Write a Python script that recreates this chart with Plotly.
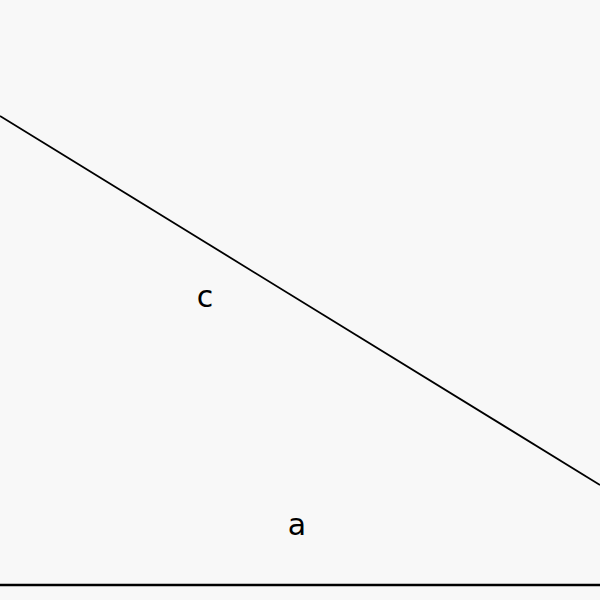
import plotly.graph_objects as go

# sloped side (c) and base (a), in picture units (0..600, y down)
side_x = [0, 600]
side_y = [116, 485]
base_x = [0, 600]
base_y = [585, 585]

label_text = ["c", "a"]
label_x = [205, 297]
label_y = [299, 527]

fig = go.Figure()

fig.add_trace(go.Scatter(x=side_x, y=side_y, mode="lines",
                         line=dict(color="black", width=1.8), hoverinfo="skip"))
fig.add_trace(go.Scatter(x=base_x, y=base_y, mode="lines",
                         line=dict(color="black", width=2.4), hoverinfo="skip"))
fig.add_trace(go.Scatter(x=label_x, y=label_y, mode="text", text=label_text,
                         textfont=dict(family="DejaVu Sans", size=30, color="black"),
                         hoverinfo="skip"))

fig.update_layout(
    width=600,
    height=600,
    margin=dict(l=0, r=0, t=0, b=0),
    paper_bgcolor="#f8f8f8",
    plot_bgcolor="#f8f8f8",
    showlegend=False,
    xaxis=dict(range=[0, 600], visible=False, fixedrange=True),
    yaxis=dict(range=[600, 0], visible=False, fixedrange=True),
)

# drop the page's default body margin so the figure fills the window
fig.write_html(
    "out.html",
    config={"displayModeBar": False},
    post_script="document.body.style.margin='0';document.body.style.background='#f8f8f8';",
)
